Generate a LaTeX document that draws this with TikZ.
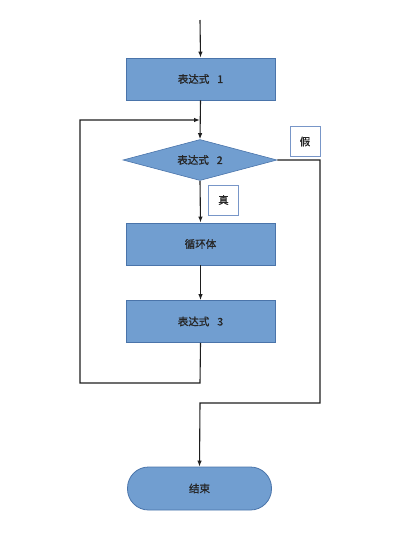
\documentclass[tikz,border=0pt]{standalone}
\usepackage{fontspec}
\newfontfamily\cjk[FakeBold=1.2]{Noto Sans CJK SC}
\usetikzlibrary{shapes.geometric,arrows.meta}
\definecolor{boxfill}{RGB}{113,158,208}
\definecolor{boxline}{RGB}{74,116,170}
\definecolor{lbline}{RGB}{120,150,200}
\definecolor{wire}{RGB}{30,30,30}
\newcommand{\gapsp}{\hspace{8pt}}
\begin{document}
\begin{tikzpicture}[x=1pt,y=-1pt,
  every node/.style={font=\cjk\fontsize{10.5}{12}\selectfont,text=black!85},
  procbox/.style={draw=boxline,fill=boxfill,line width=0.8pt,minimum width=149pt,minimum height=42pt,inner sep=0pt},
  decbox/.style={diamond,aspect=3.85,draw=boxline,fill=boxfill,line width=0.6pt,minimum width=154pt,minimum height=41pt,inner sep=0pt},
  termbox/.style={draw=boxline,fill=boxfill,line width=0.8pt,rounded corners=21pt,minimum width=144pt,minimum height=43pt,inner sep=0pt},
  lblbox/.style={draw=lbline,fill=white,line width=0.7pt,minimum width=30pt,minimum height=30pt,inner sep=0pt},
  wireline/.style={draw=wire,line width=1.1pt},
  arr/.style={wireline,-{Latex[length=6pt,width=4.5pt]}}]
\useasboundingbox (0,0) rectangle (407,539);
\coordinate (start) at (200,20);
\node[procbox] (e1) at (200.5,79) {表达式\gapsp 1};
\node[decbox] (e2) at (200,160) {表达式\gapsp 2};
\node[procbox] (body) at (200.5,244) {循环体};
\node[procbox] (e3) at (200.5,321.5) {表达式\gapsp 3};
\node[termbox] (end) at (199.5,488.5) {结束};
\node[lblbox] (lf) at (305,141.5) {假};
\node[lblbox] (lt) at (223.5,200) {真};
\coordinate (loopL) at (80,120);
\coordinate (join) at (200,120);
\coordinate (merge) at (200,403);
\draw[arr] (start) -- (e1.north);
\draw[arr] (e1.south) -- (e2.north);
\draw[arr] (e2.south) -- (body.north);
\draw[arr] (body.south) -- (e3.north);
\draw[arr] (e3.south) -- (200,383) -- (80,383) -- (loopL) -- (join);
\draw[arr] (e2.east) -- (320,160) -- (320,403) -- (merge) -- (end.north);
\end{tikzpicture}
\end{document}
